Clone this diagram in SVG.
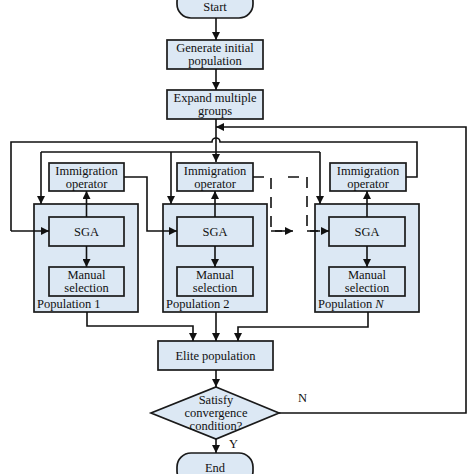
<svg xmlns="http://www.w3.org/2000/svg" width="474" height="474" viewBox="0 0 474 474">
<defs>
<marker id="ah" viewBox="0 0 10 10" refX="10" refY="5" markerWidth="8" markerHeight="8" markerUnits="userSpaceOnUse" orient="auto">
<path d="M0,0 L10,5 L0,10 z" fill="#111"/>
</marker>
</defs>
<style>
.box{fill:#dce8f4;stroke:#1a1a1a;stroke-width:1.7}
text{font-family:"Liberation Serif","DejaVu Serif",serif;font-size:12.5px;fill:#111}
.t{text-anchor:middle}
.c{fill:none;stroke:#111;stroke-width:1.6}
.ca{fill:none;stroke:#111;stroke-width:1.6;marker-end:url(#ah)}
.d{fill:none;stroke:#111;stroke-width:1.6;stroke-dasharray:11,8}
.da{fill:none;stroke:#111;stroke-width:1.6;stroke-dasharray:11,8;marker-end:url(#ah)}
</style>
<rect width="474" height="474" fill="#fff"/>

<g id="start"><rect class="box" x="177" y="-12" width="76" height="30" rx="14"/><text class="t" x="215" y="11">Start</text></g>
<g id="generate"><rect class="box" x="167" y="40" width="96" height="29"/><text class="t" x="215" y="51.5">Generate initial</text><text class="t" x="215" y="64.5">population</text></g>
<g id="expand"><rect class="box" x="167" y="90" width="96" height="29"/><text class="t" x="215" y="102">Expand multiple</text><text class="t" x="215" y="115">groups</text></g>

<g id="immigration1"><rect class="box" x="49" y="163" width="75" height="28"/><text class="t" x="86.5" y="174.5">Immigration</text><text class="t" x="86.5" y="187.5">operator</text></g>
<g id="immigration2"><rect class="box" x="177" y="163" width="76" height="28"/><text class="t" x="215" y="174.5">Immigration</text><text class="t" x="215" y="187.5">operator</text></g>
<g id="immigrationN"><rect class="box" x="330" y="163" width="76" height="28"/><text class="t" x="368" y="174.5">Immigration</text><text class="t" x="368" y="187.5">operator</text></g>

<g id="population1"><rect class="box" x="34" y="204" width="104" height="108"/><text x="37" y="308">Population 1</text>
<rect class="box" x="49" y="217" width="75" height="29"/><text class="t" x="86.5" y="235.5">SGA</text>
<rect class="box" x="49" y="267" width="75" height="29"/><text class="t" x="86.5" y="278.5">Manual</text><text class="t" x="86.5" y="291.5">selection</text></g>
<g id="population2"><rect class="box" x="163" y="204" width="104" height="108"/><text x="166" y="308">Population 2</text>
<rect class="box" x="177" y="217" width="76" height="29"/><text class="t" x="215" y="235.5">SGA</text>
<rect class="box" x="177" y="267" width="76" height="29"/><text class="t" x="215" y="278.5">Manual</text><text class="t" x="215" y="291.5">selection</text></g>
<g id="populationN"><rect class="box" x="315" y="204" width="104" height="108"/><text x="318" y="308">Population <tspan font-style="italic">N</tspan></text>
<rect class="box" x="329" y="217" width="76" height="29"/><text class="t" x="367" y="235.5">SGA</text>
<rect class="box" x="329" y="267" width="76" height="29"/><text class="t" x="367" y="278.5">Manual</text><text class="t" x="367" y="291.5">selection</text></g>

<g id="elite"><rect class="box" x="158" y="341" width="115" height="29"/><text class="t" x="215.5" y="359.5">Elite population</text></g>
<g id="decision"><path class="box" d="M216,387 L279,413 L216,439 L151,413 z"/><text class="t" x="216" y="404">Satisfy</text><text class="t" x="216" y="417">convergence</text><text class="t" x="216" y="430">condition?</text></g>
<g id="end"><rect class="box" x="177" y="453" width="76" height="32" rx="14"/><text class="t" x="215" y="471.5">End</text></g>

<g id="connectors">
<path class="ca" d="M216,18 V40"/>
<path class="ca" d="M216,69 V90"/>
<path class="ca" d="M216,119 V162"/>
<path class="ca" d="M279,413 H466 V127 H216"/>
<path class="c" d="M11,231 V142 H212 A4,4 0 0 1 220,142 H417 V177 H406"/>
<path class="ca" d="M11,231 H49"/>
<path class="c" d="M41,152 H320"/>
<path class="ca" d="M41,152 V204"/>
<path class="ca" d="M171,152 V204"/>
<path class="ca" d="M320,152 V204"/>
<path class="ca" d="M124,177 H147 V231 H177"/>
<path class="d" d="M253,177 H271 V231 H285"/>
<path class="da" d="M271,231 H293"/>
<path class="d" d="M288,177 H307 V231 H320"/>
<path class="da" d="M307,231 H329"/>
<path class="ca" d="M86.5,217 V191"/>
<path class="ca" d="M215,217 V191"/>
<path class="ca" d="M367,217 V191"/>
<path class="ca" d="M86.5,246 V267"/>
<path class="ca" d="M215,246 V267"/>
<path class="ca" d="M367,246 V267"/>
<path class="ca" d="M87,312 V326 H193 V341"/>
<path class="ca" d="M216,312 V341"/>
<path class="ca" d="M368,312 V327 H238 V341"/>
<path class="ca" d="M216,370 V387"/>
<path class="ca" d="M216,439 V453"/>
</g>
<text x="298" y="402">N</text>
<text x="229" y="448">Y</text>
</svg>
